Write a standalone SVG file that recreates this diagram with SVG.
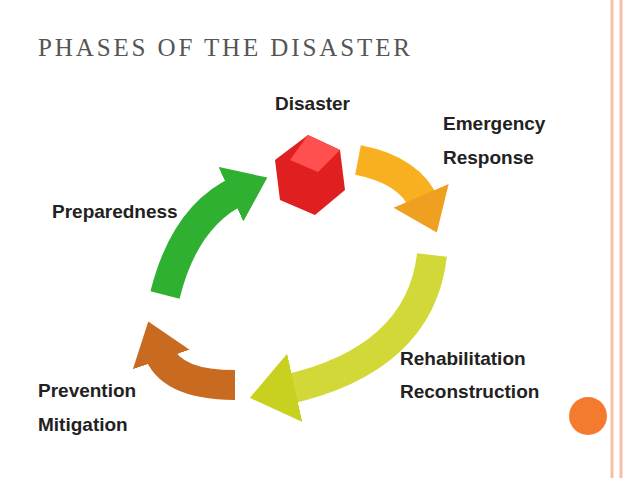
<svg xmlns="http://www.w3.org/2000/svg" width="638" height="478" viewBox="0 0 638 478">
<style>
.lbl{font-family:"Liberation Sans",Arial,sans-serif;font-weight:bold;font-size:19px;fill:#222}
.arr{fill:none;stroke-width:30}
</style>
<defs>
<marker id="hO" markerUnits="userSpaceOnUse" markerWidth="60" markerHeight="60" refX="10" refY="30" orient="auto"><path d="M0,0 L40,30 L0,60 Z" fill="#f0a020"/></marker>
<marker id="hY" markerUnits="userSpaceOnUse" markerWidth="60" markerHeight="70" refX="10" refY="35" orient="auto"><path d="M0,0 L46,35 L0,70 Z" fill="#c8d020"/></marker>
<marker id="hB" markerUnits="userSpaceOnUse" markerWidth="60" markerHeight="60" refX="10" refY="30" orient="auto"><path d="M0,0 L40,30 L0,60 Z" fill="#c86a20"/></marker>
<marker id="hG" markerUnits="userSpaceOnUse" markerWidth="60" markerHeight="60" refX="10" refY="30" orient="auto"><path d="M0,0 L40,30 L0,60 Z" fill="#30b030"/></marker>
</defs>
<rect width="638" height="478" fill="#fff"/>
<line x1="612" y1="0" x2="612" y2="478" stroke="#f5c0a8" stroke-width="3"/>
<line x1="621" y1="0" x2="621" y2="478" stroke="#f5c0a8" stroke-width="3"/>
<circle cx="588" cy="416" r="19" fill="#f47a30"/>
<text x="38" y="56" font-family="Liberation Serif,serif" font-size="25" textLength="372" fill="#555">PHASES OF THE DISASTER</text>
<g id="connectors">
<path class="arr" stroke="#f8b020" d="M358,160 Q410,170 425,205" marker-end="url(#hO)"/>
<path class="arr" stroke="#d2d838" stroke-width="34" d="M432,255 Q420,360 285,390" marker-end="url(#hY)"/>
<path class="arr" stroke="#c86a20" d="M235,385 Q170,385 158,350" marker-end="url(#hB)"/>
<path class="arr" stroke="#30b030" d="M165,295 Q185,215 240,190" marker-end="url(#hG)"/>
</g>
<g id="disaster"><polygon points="308,135 340,150 345,190 315,215 280,200 275,160" fill="#e02020"/><polygon points="308,135 340,150 318,172 290,160" fill="#ff5050"/><text class="lbl" x="275" y="110">Disaster</text></g>
<g id="emergency"><text class="lbl" x="443" y="130">Emergency</text><text class="lbl" x="443" y="164">Response</text></g>
<g id="rehab"><text class="lbl" x="400" y="365">Rehabilitation</text><text class="lbl" x="400" y="398">Reconstruction</text></g>
<g id="prevention"><text class="lbl" x="38" y="397">Prevention</text><text class="lbl" x="38" y="431">Mitigation</text></g>
<g id="preparedness"><text class="lbl" x="52" y="218">Preparedness</text></g>
</svg>
